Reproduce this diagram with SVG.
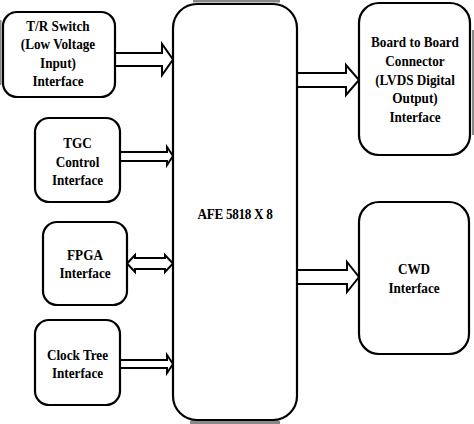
<svg xmlns="http://www.w3.org/2000/svg" width="474" height="424" viewBox="0 0 474 424">
<style>
.box{fill:#fff;stroke:#000;stroke-width:2.2}
.arr{fill:#fff;stroke:#000;stroke-width:2;stroke-linejoin:miter}
.t{font-family:"Liberation Serif","Times New Roman",serif;font-weight:bold;font-size:13.2px;text-anchor:middle;fill:#000}
.sh{fill:#888}
</style>
<rect width="474" height="424" fill="#fff"/>
<g id="shadows">
<rect class="sh" x="193" y="0" width="87" height="2.5"/>
<rect class="sh" x="190" y="421" width="90" height="3"/>
<rect class="sh" x="0" y="20" width="1.5" height="65"/>
<rect class="sh" x="472" y="30" width="2" height="105"/>
</g>
<g id="connectors">
<polygon class="arr" points="115,53 162,53 162,44 173,59.5 162,75 162,66 115,66"/>
<polygon class="arr" points="120,152 167,152 167,147 173,156 167,165 167,161 120,161"/>
<polygon class="arr" points="127,263.5 135,255 135,258 165,258 165,255 173,263.5 165,272 165,269 135,269 135,272"/>
<polygon class="arr" points="120,360 167,360 167,355 173,364 167,373 167,368 120,368"/>
<polygon class="arr" points="297,73 346,73 346,65 359,80 346,95 346,87 297,87"/>
<polygon class="arr" points="297,270 347,270 347,262 359,277 347,292 347,284 297,284"/>
</g>
<g id="main">
<rect class="box" x="173" y="4" width="124" height="416" rx="24"/>
<text class="t" transform="translate(235,219) scale(1,1.1)" font-size="13.8" letter-spacing="-0.3">AFE 5818 X 8</text>
</g>
<g id="tr">
<rect class="box" x="3" y="12" width="112" height="85" rx="14"/>
<text class="t" transform="translate(58,31) scale(1,1.12)">T/R Switch</text>
<text class="t" transform="translate(58,49) scale(1,1.12)">(Low Voltage</text>
<text class="t" transform="translate(58,68) scale(1,1.12)">Input)</text>
<text class="t" transform="translate(58,86) scale(1,1.12)">Interface</text>
</g>
<g id="tgc">
<rect class="box" x="35" y="118" width="85" height="84" rx="14"/>
<text class="t" transform="translate(77.5,148) scale(1,1.12)">TGC</text>
<text class="t" transform="translate(77.5,167) scale(1,1.12)">Control</text>
<text class="t" transform="translate(77.5,185) scale(1,1.12)">Interface</text>
</g>
<g id="fpga">
<rect class="box" x="43" y="222" width="84" height="83" rx="14"/>
<text class="t" transform="translate(85,260) scale(1,1.12)">FPGA</text>
<text class="t" transform="translate(85,278) scale(1,1.12)">Interface</text>
</g>
<g id="clock">
<rect class="box" x="35" y="320" width="85" height="85" rx="14"/>
<text class="t" transform="translate(77.5,360) scale(1,1.12)">Clock Tree</text>
<text class="t" transform="translate(77.5,378) scale(1,1.12)">Interface</text>
</g>
<g id="board">
<rect class="box" x="359" y="3" width="111" height="152" rx="20"/>
<text class="t" transform="translate(415,47) scale(1,1.12)">Board to Board</text>
<text class="t" transform="translate(415,66) scale(1,1.12)">Connector</text>
<text class="t" transform="translate(415,85) scale(1,1.12)">(LVDS Digital</text>
<text class="t" transform="translate(415,103) scale(1,1.12)">Output)</text>
<text class="t" transform="translate(415,122) scale(1,1.12)">Interface</text>
</g>
<g id="cwd">
<rect class="box" x="359" y="202" width="110" height="152" rx="20"/>
<text class="t" transform="translate(414,274) scale(1,1.12)">CWD</text>
<text class="t" transform="translate(414,293) scale(1,1.12)">Interface</text>
</g>
</svg>
